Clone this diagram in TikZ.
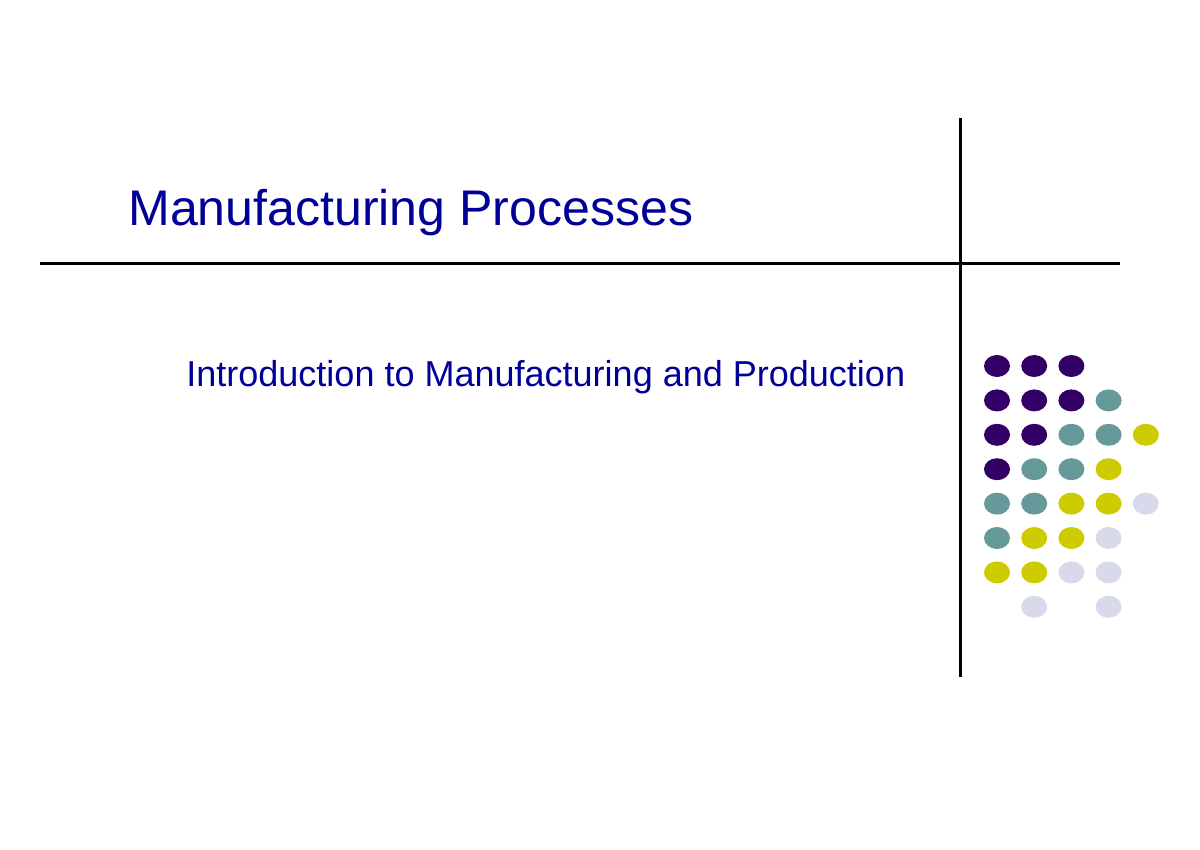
\documentclass[tikz,border=0pt]{standalone}
\usepackage{fontspec}
\setmainfont{Liberation Sans}
\definecolor{navy}{HTML}{000099}
\definecolor{cP}{HTML}{330066}
\definecolor{cT}{HTML}{669999}
\definecolor{cY}{HTML}{CCCC00}
\definecolor{cL}{HTML}{D9D9EC}
\begin{document}
\begin{tikzpicture}[x=0.02cm,y=-0.02cm,
  rule/.style={line width=0.06cm,black}]
\useasboundingbox (0,0) rectangle (1200,849);
\draw[rule] (40,263) -- (1120,263);
\draw[rule] (960,118) -- (960,677);
\node[anchor=base west,text=navy,font=\fontsize{28.5}{34}\selectfont,inner sep=0pt] (title) at (128,225) {Manufacturing Processes};
\node[anchor=base west,text=navy,font=\fontsize{20.5}{25}\selectfont,inner sep=0pt] (sub) at (186,386) {Introduction to Manufacturing and Production};
\foreach \r/\row in {0/{P,P,P},1/{P,P,P,T},2/{P,P,T,T,Y},3/{P,T,T,Y},4/{T,T,Y,Y,L},5/{T,Y,Y,L},6/{Y,Y,L,L},7/{N,L,N,L}}{
  \foreach \c [count=\i from 0] in \row {
    \if N\c\else
    \fill[c\c] ({997+37.2*\i},{366+34.4*\r}) ellipse [x radius=13, y radius=11];
    \fi
  }
}
\end{tikzpicture}
\end{document}
